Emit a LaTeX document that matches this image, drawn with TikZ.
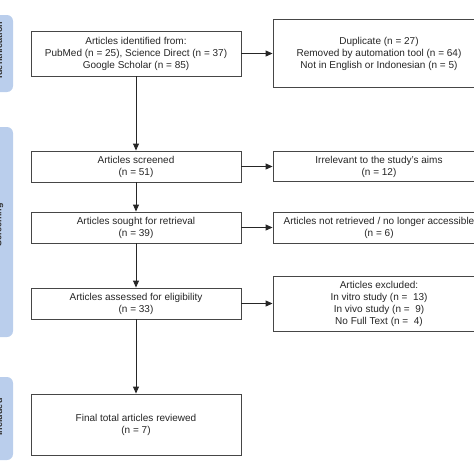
\documentclass[tikz,border=0pt]{standalone}
\usepackage{fontspec}
\setmainfont{Liberation Sans}
\usetikzlibrary{arrows.meta}
\definecolor{sidebar}{RGB}{186,206,236}
\definecolor{boxline}{RGB}{70,70,70}
\begin{document}
\begin{tikzpicture}[x=1pt,y=-1pt,
  box/.style={draw=boxline,line width=0.9pt,fill=white,align=center,inner sep=0pt,
    font=\fontsize{10}{12}\selectfont,text=black!85},
  lbox/.style={box,minimum width=210pt},
  rbox/.style={box,minimum width=212pt},
  arr/.style={draw=black!85,line width=0.9pt,-{Triangle[length=7pt,width=6pt]}},
  side/.style={fill=sidebar,rounded corners=6pt},
  sidetext/.style={rotate=90,font=\fontsize{9}{10}\selectfont\bfseries,text=black!80}]
\useasboundingbox (0,0) rectangle (474,474);
\clip (0,0) rectangle (474,474);
% sidebars
\fill[side] (-30,15) rectangle (13,92);
\node[sidetext] (sIdent) at (-1,50) {Identification};
\fill[side] (-30,127) rectangle (13,337);
\node[sidetext] (sScreen) at (-1,225) {Screening};
\fill[side] (-30,377) rectangle (13,460);
\node[sidetext] (sIncl) at (-1,417) {Included};
% left column
\node[lbox,minimum height=45pt] (ident) at (136,53.5) {Articles identified from:\\PubMed (n = 25), Science Direct (n = 37)\\Google Scholar (n = 85)};
\node[lbox,minimum height=31pt] (screen) at (136,166.5) {Articles screened\\(n = 51)};
\node[lbox,minimum height=31pt] (sought) at (136,227.5) {Articles sought for retrieval\\(n = 39)};
\node[lbox,minimum height=31pt] (assess) at (136,303.5) {Articles assessed for eligibility\\(n = 33)};
\node[lbox,minimum height=61pt] (final) at (136,424.5) {Final total articles reviewed\\(n = 7)};
% right column
\node[rbox,minimum height=68pt] (dup) at (379,53.5) {Duplicate (n = 27)\\Removed by automation tool (n = 64)\\Not in English or Indonesian (n = 5)};
\node[rbox,minimum height=30pt] (irrel) at (379,166.5) {Irrelevant to the study's aims\\(n = 12)};
\node[rbox,minimum height=31pt] (notret) at (379,227.5) {Articles not retrieved / no longer accessible\\(n = 6)};
\node[rbox,minimum height=55pt] (excl) at (379,303.5) {Articles excluded:\\In vitro study (n =\ \ 13)\\In vivo study (n =\ \ 9)\\No Full Text (n =\ \ 4)};
% connectors
\draw[arr] (ident) -- (screen);
\draw[arr] (screen) -- (sought);
\draw[arr] (sought) -- (assess);
\draw[arr] (assess) -- (final);
\draw[arr] (ident) -- (dup);
\draw[arr] (screen) -- (irrel);
\draw[arr] (sought) -- (notret);
\draw[arr] (assess) -- (excl);
\end{tikzpicture}
\end{document}
